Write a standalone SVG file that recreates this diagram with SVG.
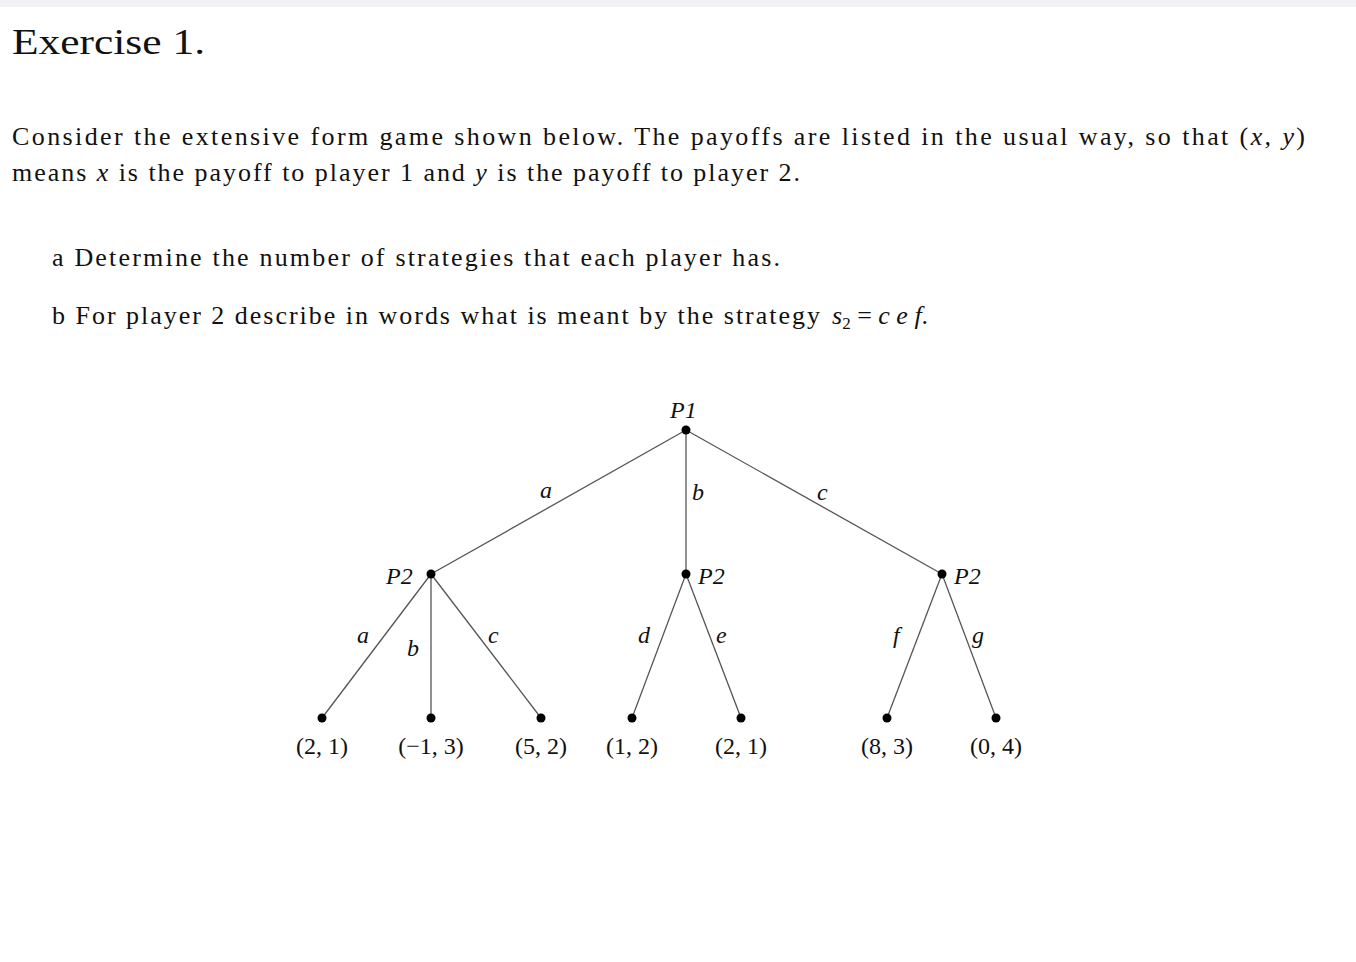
<svg xmlns="http://www.w3.org/2000/svg" width="1356" height="962" viewBox="0 0 1356 962">
<style>
text{font-family:"Liberation Serif","DejaVu Serif",serif;fill:#111}
.p{font-size:26px}
.i{font-style:italic}
.l{font-size:24px}
.e line{stroke:#555;stroke-width:1.3}
circle{fill:#000}
</style>
<rect width="1356" height="962" fill="#fff"/>
<rect width="1356" height="7" fill="#f2f2f4"/>
<text x="12" y="54" font-size="35" textLength="193" lengthAdjust="spacingAndGlyphs">Exercise 1.</text>
<text class="p" x="12" y="145" textLength="1293">Consider the extensive form game shown below.  The payoffs are listed in the usual way, so that (<tspan class="i">x, y</tspan>)</text>
<text class="p" x="12" y="181" textLength="788">means <tspan class="i">x</tspan> is the payoff to player 1 and <tspan class="i">y</tspan> is the payoff to player 2.</text>
<text class="p" x="52" y="266" textLength="728">a  Determine the number of strategies that each player has.</text>
<text class="p" x="52" y="324" textLength="768">b  For player 2 describe in words what is meant by the strategy</text>
<text class="p" x="832" y="324"><tspan class="i">s</tspan><tspan font-size="17" dy="5">2</tspan><tspan dy="-5"> = </tspan><tspan class="i">c e f</tspan>.</text>
<g class="e" id="edges">
<line x1="686" y1="430" x2="431" y2="574"/><line x1="686" y1="430" x2="686" y2="574"/><line x1="686" y1="430" x2="942" y2="574"/>
<line x1="431" y1="574" x2="322" y2="718"/><line x1="431" y1="574" x2="431" y2="718"/><line x1="431" y1="574" x2="541" y2="718"/>
<line x1="686" y1="574" x2="632" y2="718"/><line x1="686" y1="574" x2="741" y2="718"/>
<line x1="942" y1="574" x2="887" y2="718"/><line x1="942" y1="574" x2="996" y2="718"/>
</g>
<g id="P1"><circle cx="686" cy="430" r="4.5"/><text class="l i" x="670" y="418">P1</text></g>
<g id="P2a"><circle cx="431" cy="574" r="4.5"/><text class="l i" x="386" y="584">P2</text></g>
<g id="P2b"><circle cx="686" cy="574" r="4.5"/><text class="l i" x="698" y="584">P2</text></g>
<g id="P2c"><circle cx="942" cy="574" r="4.5"/><text class="l i" x="954" y="584">P2</text></g>
<g id="labels">
<text class="l i" x="540" y="498">a</text><text class="l i" x="692" y="500">b</text><text class="l i" x="817" y="500">c</text>
<text class="l i" x="357" y="643">a</text><text class="l i" x="407" y="656">b</text><text class="l i" x="488" y="643">c</text>
<text class="l i" x="638" y="643">d</text><text class="l i" x="716" y="643">e</text>
<text class="l i" x="893" y="643">f</text><text class="l i" x="972" y="643">g</text>
</g>
<g id="leaves">
<circle cx="322" cy="718" r="4.5"/><circle cx="431" cy="718" r="4.5"/><circle cx="541" cy="718" r="4.5"/><circle cx="632" cy="718" r="4.5"/><circle cx="741" cy="718" r="4.5"/><circle cx="887" cy="718" r="4.5"/><circle cx="996" cy="718" r="4.5"/>
<g text-anchor="middle">
<text class="l" x="322" y="754">(2, 1)</text><text class="l" x="431" y="754">(−1, 3)</text><text class="l" x="541" y="754">(5, 2)</text><text class="l" x="632" y="754">(1, 2)</text><text class="l" x="741" y="754">(2, 1)</text><text class="l" x="887" y="754">(8, 3)</text><text class="l" x="996" y="754">(0, 4)</text>
</g>
</g>
</svg>
